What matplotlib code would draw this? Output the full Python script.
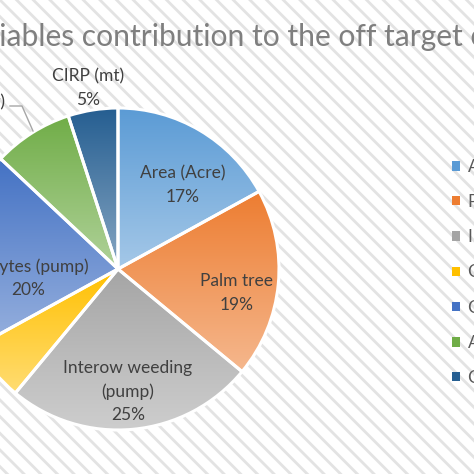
import numpy as np
import matplotlib
matplotlib.use('Agg')
import matplotlib.pyplot as plt
from matplotlib.patches import Rectangle, Patch
from matplotlib.colors import to_rgb

# ---------------- data ----------------
categories = ['Area (Acre)', 'Palm tree', 'Interow weeding (pump)',
              'Circle weeding (pump)', 'Cut epiphytes (pump)',
              'Age (year)', 'CIRP (mt)']
label_names = ['Area (Acre)', 'Palm tree', 'Interow weeding\n(pump)',
               'Circle weeding\n(pump)', 'Epiphytes (pump)',
               'Age (year)', 'CIRP (mt)']
shares = [17, 19, 25, 6, 20, 8, 5]
colors = ['#5B9BD5', '#ED7D31', '#A5A5A5', '#FFC000', '#4472C4', '#70AD47', '#255E91']
title = 'Variables contribution to the off target cost'

# ---------------- layout (image pixel coords, y from top) ----------------
W = H = 474
CX, CY, R = 118, 269, 161
label_pos = [(183, 185), (237, 293), (128, 392), (-80, 350), (28, 278), (-33.5, 113), (88, 88)]
name_dx = [0, 0, 0, 0, -6, 0, 0]
LINE = 23.5
FONT = 'Lato'
TXT = '#404040'
FS = 12.5
TFS = 21.6

plt.rcParams['font.family'] = [FONT, 'DejaVu Sans']
plt.rcParams['hatch.linewidth'] = 2.0

fig = plt.figure(figsize=(W / 100, H / 100), dpi=100)
ax = fig.add_axes([0, 0, 1, 1])


def P(x, y):
    return x, H - y


# background stripes
ax.add_patch(Rectangle((0, 0), W, H, facecolor='white', edgecolor='#e3e3e3',
                       hatch='\\\\', linewidth=0, zorder=-5))

wedges, _ = ax.pie(shares, startangle=90, counterclock=False,
                   center=P(CX, CY), radius=R,
                   wedgeprops=dict(facecolor='none', edgecolor='white', linewidth=2.2))

t = np.linspace(0, 1, 256).reshape(-1, 1, 1)
for w, c in zip(wedges, colors):
    w.set_zorder(3)
    c0 = np.array(to_rgb(c))
    c1 = c0 + (1 - c0) * 0.45
    arr = c0 * (1 - t) + c1 * t
    ext = w.get_path().get_extents()
    im = ax.imshow(arr, extent=(ext.x0, ext.x1, ext.y0, ext.y1), origin='upper',
                   aspect='auto', zorder=2, interpolation='bilinear')
    im.set_clip_path(w)

for name, s, (lx, ly), dx in zip(label_names, shares, label_pos, name_dx):
    lines = name.split('\n') + [f'{s}%']
    n = len(lines)
    for i, line in enumerate(lines):
        x = lx + (dx if i < n - 1 else 0)
        y = ly + (i - (n - 1) / 2) * LINE
        ax.text(*P(x, y), line, ha='center', va='center', fontsize=FS,
                color=TXT, zorder=5)

# leader line for the green slice label
lead_x = [10, 22, 33]
lead_y = [106, 106, 131]
ax.plot(lead_x, [H - v for v in lead_y], color='#a6a6a6', lw=1, zorder=4)

# title, positioned so that the beginning is cut at the left edge
renderer = fig.canvas.get_renderer()
tmp = ax.text(0, 0, 'Var', fontsize=TFS)
wpre = tmp.get_window_extent(renderer).width
tmp.remove()
ax.text(*P(-wpre - 1, 46), title, fontsize=TFS, color='#7f7f7f', ha='left',
        va='baseline', zorder=6)

handles = [Patch(facecolor=c, edgecolor='none') for c in colors]
ax.legend(handles, categories, loc='upper left',
          bbox_to_anchor=(452 / W, 1 - 159 / H), frameon=False,
          fontsize=FS, handlelength=0.45, handleheight=0.45,
          handletextpad=0.45, labelspacing=1.08, borderpad=0,
          borderaxespad=0, labelcolor='#595959')

ax.set_xlim(0, W)
ax.set_ylim(0, H)
ax.set_aspect('auto')
ax.axis('off')
fig.savefig('out.png', dpi=100)
